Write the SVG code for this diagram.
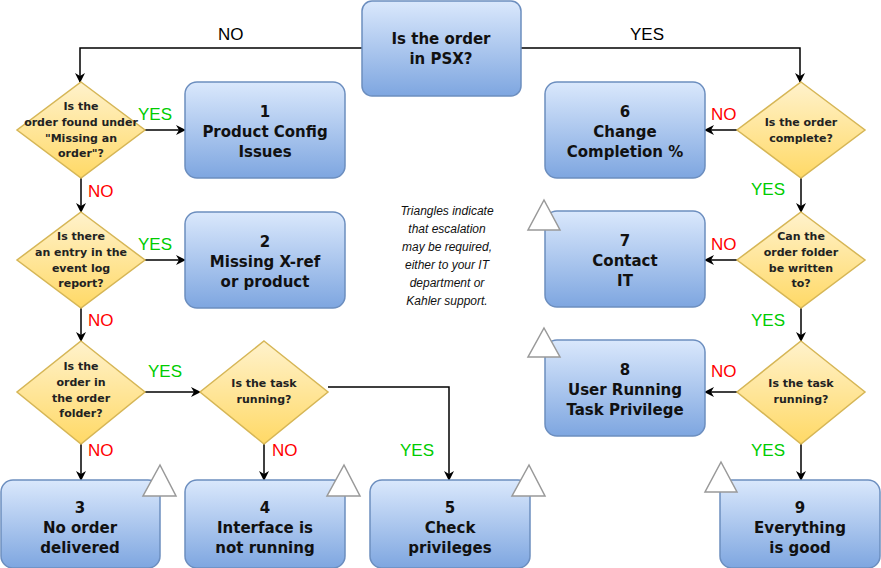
<svg xmlns="http://www.w3.org/2000/svg" width="881" height="568" viewBox="0 0 881 568">
<defs>
<linearGradient id="gb" x1="0" y1="0" x2="0" y2="1"><stop offset="0" stop-color="#dae8fc"/><stop offset="1" stop-color="#7ea6e0"/></linearGradient>
<linearGradient id="gy" x1="0" y1="0" x2="0" y2="1"><stop offset="0" stop-color="#fff2cc"/><stop offset="1" stop-color="#ffd966"/></linearGradient>
<marker id="ar" viewBox="0 0 10 10" refX="9" refY="5" markerWidth="10" markerHeight="10" markerUnits="userSpaceOnUse" orient="auto"><path d="M0,0 L10,5 L0,10 L3,5 Z" fill="#000"/></marker>
<style>
.b{fill:url(#gb);stroke:#6c8ebf;stroke-width:1.5}
.d{fill:url(#gy);stroke:#d6b656;stroke-width:1.5}
.t{fill:none;stroke:#999;stroke-width:1.5;fill:#fff}
.bt{font-family:"DejaVu Sans",sans-serif;font-weight:bold;font-size:15px;fill:#111;text-anchor:middle}
.dt{font-family:"DejaVu Sans",sans-serif;font-weight:bold;font-size:11px;fill:#222;text-anchor:middle}
.c{fill:none;stroke:#000;stroke-width:1.5;marker-end:url(#ar)}
.no{font-family:"Liberation Sans",sans-serif;font-size:17px;fill:#ff0000}
.yes{font-family:"Liberation Sans",sans-serif;font-size:17px;fill:#00cc00}
.k{font-family:"Liberation Sans",sans-serif;font-size:17px;fill:#000}
.n{font-family:"Liberation Sans",sans-serif;font-style:italic;font-size:12px;fill:#111;text-anchor:middle}
</style>
</defs>
<g id="connectors">
<path class="c" d="M362,48 H80 V82"/>
<path class="c" d="M521,48 H800 V82"/>
<path class="c" d="M145,130 H185"/>
<path class="c" d="M81,178 V212"/>
<path class="c" d="M145,260 H185"/>
<path class="c" d="M81,308 V341"/>
<path class="c" d="M145,392 H200"/>
<path class="c" d="M81,444 V480"/>
<path class="c" d="M264,444 V480"/>
<path class="c" d="M328,387 H449 V480"/>
<path class="c" d="M737,130 H705"/>
<path class="c" d="M801,178 V212"/>
<path class="c" d="M737,260 H705"/>
<path class="c" d="M801,308 V341"/>
<path class="c" d="M737,392 H705"/>
<path class="c" d="M801,444 V480"/>
<text class="k" x="218" y="40">NO</text>
<text class="k" x="630" y="40">YES</text>
<text class="yes" x="138" y="120">YES</text>
<text class="no" x="88" y="197">NO</text>
<text class="yes" x="138" y="250">YES</text>
<text class="no" x="88" y="326">NO</text>
<text class="yes" x="148" y="377">YES</text>
<text class="no" x="88" y="456">NO</text>
<text class="no" x="272" y="456">NO</text>
<text class="yes" x="400" y="456">YES</text>
<text class="no" x="711" y="120">NO</text>
<text class="yes" x="751" y="195">YES</text>
<text class="no" x="711" y="250">NO</text>
<text class="yes" x="751" y="326">YES</text>
<text class="no" x="711" y="377">NO</text>
<text class="yes" x="751" y="456">YES</text>
</g>
<g id="start"><rect class="b" x="362" y="1" width="159" height="95" rx="10"/><text class="bt" x="441" y="44">Is the order</text><text class="bt" x="441" y="64">in PSX?</text></g>
<g id="q1"><polygon class="d" points="81,82 145,130 81,178 17,130"/><text class="dt" x="81" y="110">Is the</text><text class="dt" x="81" y="126">order found under</text><text class="dt" x="81" y="142">"Missing an</text><text class="dt" x="81" y="157">order"?</text></g>
<g id="q2"><polygon class="d" points="81,212 145,260 81,308 17,260"/><text class="dt" x="81" y="240">Is there</text><text class="dt" x="81" y="256">an entry in the</text><text class="dt" x="81" y="272">event log</text><text class="dt" x="81" y="287">report?</text></g>
<g id="q3"><polygon class="d" points="81,341 145,392 81,444 17,392"/><text class="dt" x="81" y="370">Is the</text><text class="dt" x="81" y="386">order in</text><text class="dt" x="81" y="402">the order</text><text class="dt" x="81" y="417">folder?</text></g>
<g id="q4"><polygon class="d" points="264,341 328,392 264,444 200,392"/><text class="dt" x="264" y="387">Is the task</text><text class="dt" x="264" y="403">running?</text></g>
<g id="q6"><polygon class="d" points="801,82 865,130 801,178 737,130"/><text class="dt" x="801" y="126">Is the order</text><text class="dt" x="801" y="142">complete?</text></g>
<g id="q7"><polygon class="d" points="801,212 865,260 801,308 737,260"/><text class="dt" x="801" y="240">Can the</text><text class="dt" x="801" y="256">order folder</text><text class="dt" x="801" y="272">be written</text><text class="dt" x="801" y="287">to?</text></g>
<g id="q8"><polygon class="d" points="801,341 865,392 801,444 737,392"/><text class="dt" x="801" y="387">Is the task</text><text class="dt" x="801" y="403">running?</text></g>
<g id="n1"><rect class="b" x="185" y="82" width="160" height="96" rx="12"/><text class="bt" x="265" y="117">1</text><text class="bt" x="265" y="137">Product Config</text><text class="bt" x="265" y="157">Issues</text></g>
<g id="n2"><rect class="b" x="185" y="212" width="160" height="96" rx="12"/><text class="bt" x="265" y="247">2</text><text class="bt" x="265" y="267">Missing X-ref</text><text class="bt" x="265" y="287">or product</text></g>
<g id="n3"><rect class="b" x="1" y="480" width="159" height="88" rx="12"/><polygon class="t" points="160,465 176,496 143,496"/><text class="bt" x="80" y="513">3</text><text class="bt" x="80" y="533">No order</text><text class="bt" x="80" y="553">delivered</text></g>
<g id="n4"><rect class="b" x="185" y="480" width="160" height="88" rx="12"/><polygon class="t" points="344,465 360,496 327,496"/><text class="bt" x="265" y="513">4</text><text class="bt" x="265" y="533">Interface is</text><text class="bt" x="265" y="553">not running</text></g>
<g id="n5"><rect class="b" x="370" y="480" width="160" height="88" rx="12"/><polygon class="t" points="529,465 545,496 512,496"/><text class="bt" x="450" y="513">5</text><text class="bt" x="450" y="533">Check</text><text class="bt" x="450" y="553">privileges</text></g>
<g id="n6"><rect class="b" x="545" y="82" width="160" height="96" rx="12"/><text class="bt" x="625" y="117">6</text><text class="bt" x="625" y="137">Change</text><text class="bt" x="625" y="157">Completion %</text></g>
<g id="n7"><rect class="b" x="545" y="211" width="160" height="96" rx="12"/><polygon class="t" points="544,200 560,230 528,230"/><text class="bt" x="625" y="246">7</text><text class="bt" x="625" y="266">Contact</text><text class="bt" x="625" y="286">IT</text></g>
<g id="n8"><rect class="b" x="545" y="340" width="160" height="96" rx="12"/><polygon class="t" points="544,328 560,357 528,357"/><text class="bt" x="625" y="375">8</text><text class="bt" x="625" y="395">User Running</text><text class="bt" x="625" y="415">Task Privilege</text></g>
<g id="n9"><rect class="b" x="720" y="480" width="160" height="88" rx="12"/><polygon class="t" points="721,462 737,492 705,492"/><text class="bt" x="800" y="513">9</text><text class="bt" x="800" y="533">Everything</text><text class="bt" x="800" y="553">is good</text></g>
<g id="note"><text class="n" x="447" y="215">Triangles indicate</text><text class="n" x="447" y="233">that escalation</text><text class="n" x="447" y="251">may be required,</text><text class="n" x="447" y="269">either to your IT</text><text class="n" x="447" y="287">department or</text><text class="n" x="447" y="305">Kahler support.</text></g>
</svg>
